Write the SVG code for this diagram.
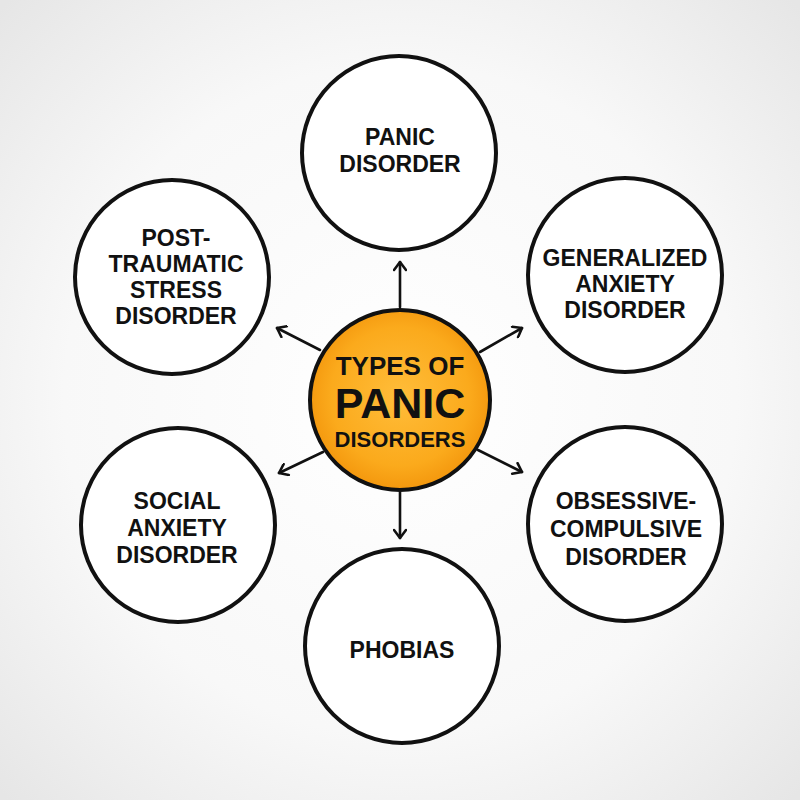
<svg xmlns="http://www.w3.org/2000/svg" width="800" height="800" viewBox="0 0 800 800">
<defs>
<radialGradient id="bg" cx="50%" cy="50%" r="70%">
<stop offset="0" stop-color="#ffffff"/>
<stop offset="0.6" stop-color="#f8f8f8"/>
<stop offset="1" stop-color="#e6e6e6"/>
</radialGradient>
<radialGradient id="hub" cx="50%" cy="48%" r="55%">
<stop offset="0" stop-color="#ffbd3a"/>
<stop offset="0.7" stop-color="#fbaa1c"/>
<stop offset="1" stop-color="#f2930a"/>
</radialGradient>
<marker id="ah" markerWidth="14" markerHeight="14" refX="10" refY="7" orient="auto" markerUnits="userSpaceOnUse">
<path d="M2,1 L10,7 L2,13" fill="none" stroke="#111" stroke-width="2.6" stroke-linecap="round" stroke-linejoin="round"/>
</marker>
<style>
.node circle{fill:#fff;stroke:#111;stroke-width:4}
.t{font-family:"Liberation Sans","DejaVu Sans",sans-serif;font-weight:bold;font-size:23px;fill:#111;text-anchor:middle}
.c{font-family:"Liberation Sans","DejaVu Sans",sans-serif;font-weight:bold;fill:#111;text-anchor:middle}
.con line{stroke:#111;stroke-width:2.6;stroke-linecap:round;marker-end:url(#ah)}
</style>
</defs>
<rect width="800" height="800" fill="url(#bg)"/>
<g id="connectors" class="con">
<line x1="400" y1="307" x2="400" y2="262"/>
<line x1="320" y1="350" x2="277" y2="328"/>
<line x1="480" y1="352" x2="522" y2="328"/>
<line x1="323" y1="452" x2="279" y2="473"/>
<line x1="478" y1="450" x2="522" y2="472"/>
<line x1="400" y1="492" x2="400" y2="538"/>
</g>
<g id="hub">
<circle cx="400" cy="400" r="90" fill="url(#hub)" stroke="#111" stroke-width="4"/>
<text class="c" x="400" y="375" font-size="26">TYPES OF</text>
<text class="c" x="400" y="418" font-size="43">PANIC</text>
<text class="c" x="400" y="447" font-size="22">DISORDERS</text>
</g>
<g id="panic" class="node">
<circle cx="399" cy="153" r="97"/>
<text class="t" x="400" y="145">PANIC</text>
<text class="t" x="400" y="172">DISORDER</text>
</g>
<g id="ptsd" class="node">
<circle cx="172" cy="277" r="97"/>
<text class="t" x="176" y="246">POST-</text>
<text class="t" x="176" y="272">TRAUMATIC</text>
<text class="t" x="176" y="298">STRESS</text>
<text class="t" x="176" y="324">DISORDER</text>
</g>
<g id="gad" class="node">
<circle cx="625" cy="275" r="97"/>
<text class="t" x="625" y="266">GENERALIZED</text>
<text class="t" x="625" y="292">ANXIETY</text>
<text class="t" x="625" y="318">DISORDER</text>
</g>
<g id="social" class="node">
<circle cx="178" cy="525" r="97"/>
<text class="t" x="177" y="509">SOCIAL</text>
<text class="t" x="177" y="536">ANXIETY</text>
<text class="t" x="177" y="563">DISORDER</text>
</g>
<g id="ocd" class="node">
<circle cx="625" cy="524" r="97"/>
<text class="t" x="626" y="509">OBSESSIVE-</text>
<text class="t" x="626" y="537">COMPULSIVE</text>
<text class="t" x="626" y="565">DISORDER</text>
</g>
<g id="phobias" class="node">
<circle cx="402" cy="646" r="97"/>
<text class="t" x="402" y="658">PHOBIAS</text>
</g>
</svg>
